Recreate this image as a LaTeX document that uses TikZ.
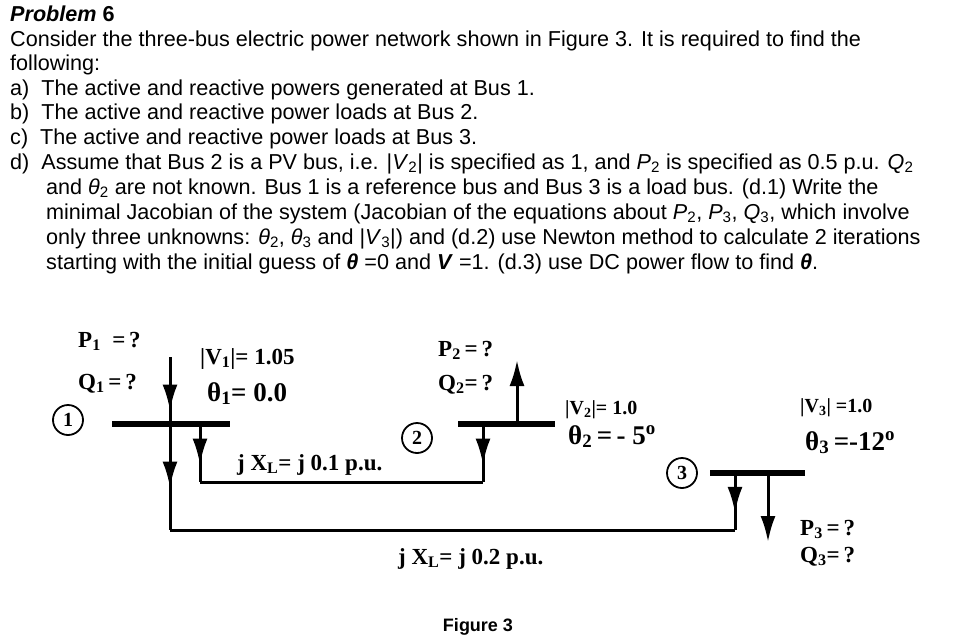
\documentclass[tikz,border=0pt]{standalone}
\usepackage{fontspec}
\setmainfont{Liberation Sans}
\newfontfamily\tms{Liberation Serif}
\usetikzlibrary{decorations.markings,arrows.meta}
\newcommand{\iv}[1]{\textit{#1}}
\newcommand{\sbs}[1]{\textsubscript{#1}}
\begin{document}
\begin{tikzpicture}[x=1pt,y=-1pt,
  bus/.style={line width=6pt},
  wire/.style={line width=3pt},
  tip/.style={-{Latex[length=26pt,width=15pt]}},
  midarr/.style={postaction={decorate},decoration={markings,mark=at position #1 with {\arrow{Latex[length=26pt,width=15pt]}}}},
  txt/.style={anchor=base west,inner sep=0pt,font=\fontsize{21.6}{24}\selectfont},
  lbl/.style={anchor=base west,inner sep=0pt,font=\tms\bfseries\fontsize{23}{24}\selectfont},
  big/.style={lbl,font=\tms\bfseries\fontsize{27}{28}\selectfont},
  num/.style={circle,draw,line width=1.8pt,minimum size=30pt,inner sep=0pt,font=\tms\bfseries\fontsize{20}{22}\selectfont}]
\useasboundingbox (0,0) rectangle (972,635);
% problem text
\node[txt] (t0) at (10,21) {\textbf{\textit{Problem}} \textbf{6}};
\node[txt] (t1) at (10,46) {Consider the three-bus electric power network shown in Figure 3. It is required to find the};
\node[txt] (t2) at (10,70) {following:};
\node[txt] (t3) at (10,95) {a)\ \ The active and reactive powers generated at Bus 1.};
\node[txt] (t4) at (10,119) {b)\ \ The active and reactive power loads at Bus 2.};
\node[txt] (t5) at (10,144) {c)\ \ The active and reactive power loads at Bus 3.};
\node[txt] (t6) at (10,169) {d)\ \ Assume that Bus 2 is a PV bus, i.e. |\iv{V}\sbs{2}| is specified as 1, and \iv{P}\sbs{2} is specified as 0.5 p.u. \iv{Q}\sbs{2}};
\node[txt] (t7) at (46,194) {and \iv{θ}\sbs{2} are not known. Bus 1 is a reference bus and Bus 3 is a load bus. (d.1) Write the};
\node[txt] (t8) at (46,219) {minimal Jacobian of the system (Jacobian of the equations about \iv{P}\sbs{2}, \iv{P}\sbs{3}, \iv{Q}\sbs{3}, which involve};
\node[txt] (t9) at (46,244) {only three unknowns: \iv{θ}\sbs{2}, \iv{θ}\sbs{3} and |\iv{V}\sbs{3}|) and (d.2) use Newton method to calculate 2 iterations};
\node[txt] (t10) at (46,269) {starting with the initial guess of \textbf{\textit{θ}} =0 and \textbf{\textit{V}} =1. (d.3) use DC power flow to find \textbf{\textit{θ}}.};
% buses
\draw[bus] (112,424) -- (230,424);
\draw[bus] (458,424) -- (555,424);
\draw[bus] (710,473) -- (805,473);
\node[num] (n1) at (68,420) {1};
\node[num] (n2) at (417,438) {2};
\node[num] (n3) at (682,473) {3};
% injections and loads
\coordinate (g1) at (170,357);
\coordinate (b1a) at (170,424);
\coordinate (b1b) at (200,424);
\coordinate (b2a) at (483,424);
\coordinate (b2g) at (517,424);
\coordinate (g2) at (517,360);
\coordinate (b3a) at (735,473);
\coordinate (b3l) at (768,473);
\coordinate (l3) at (768,542);
\draw[wire,midarr=0.8] (g1) -- (b1a);
\draw[wire,tip] (b2g) -- (g2);
\draw[wire,tip] (b3l) -- (l3);
% lines
\draw[wire,midarr=0.7] (b1b) -- (200,482);
\draw[wire] (200,482) -- (483,482);
\draw[wire,midarr=0.7] (b2a) -- (483,482);
\draw[wire,midarr=0.6] (b1a) -- (170,530);
\draw[wire] (170,530) -- (735,530);
\draw[wire,midarr=0.7] (b3a) -- (735,530);
% labels
\node[lbl] (p1) at (78,347) {P\sbs{1}\ \ =\,?};
\node[lbl] (q1) at (78,389) {Q\sbs{1}\,=\,?};
\node[lbl] (v1) at (200,364) {|V\sbs{1}|= 1.05};
\node[big] (h1) at (207,401) {θ\sbs{1}= 0.0};
\node[lbl] (x1) at (237,470) {j X\sbs{L}= j 0.1 p.u.};
\node[lbl] (p2) at (438,356) {P\sbs{2}\,=\,?};
\node[lbl] (q2) at (438,390) {Q\sbs{2}=\,?};
\node[lbl,font=\tms\bfseries\fontsize{20}{22}\selectfont] (v2) at (565,414) {|V\sbs{2}|= 1.0};
\node[big] (h2) at (568,444) {θ\sbs{2}\,=\,- 5\textsuperscript{o}};
\node[lbl,font=\tms\bfseries\fontsize{20}{22}\selectfont] (v3) at (800,412) {|V\sbs{3}| =1.0};
\node[big] (h3) at (805,450) {θ\sbs{3}\,=-12\textsuperscript{o}};
\node[lbl] (p3) at (800,535) {P\sbs{3}\,=\,?};
\node[lbl] (q3) at (800,562) {Q\sbs{3}=\,?};
\node[lbl] (x2) at (398,564) {j X\sbs{L}= j 0.2 p.u.};
\node[anchor=base,inner sep=0pt,font=\bfseries\fontsize{18}{20}\selectfont] (fig) at (478,631) {Figure 3};
\end{tikzpicture}
\end{document}
